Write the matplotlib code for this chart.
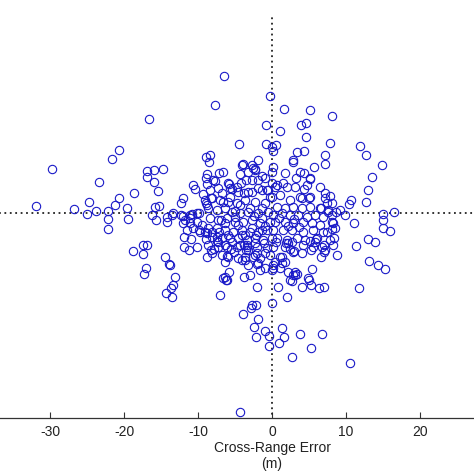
import matplotlib
matplotlib.use("Agg")
import matplotlib.pyplot as plt

# cross-range error (m)
cross_range = [
    -6.5, -0.3, -7.7, 1.6, 5.1, 8.1, -16.6, -0.8, 3.9, 4.6, 1.1, 4.6, -4.5, -0.8, 0.5, 0.0, 0.1, 7.8, 11.9, -20.7,
    3.4, 4.3, 7.2, 12.7, -8.4, -8.9, -21.6, 2.8, -29.7, -16.9, -15.9, -14.7, -16.9, -23.4, -15.9, -15.4, -18.6, -20.7,
    -8.5, -7.2, -6.6, -8.8, -8.9, -7.7, -8.8, -5.8, -10.7, -10.4, -8.4, -6.8, -9.3, -12.0, -12.3, -8.2, -8.9,
    -31.9, -26.8, -24.7, -21.2, -19.6, -23.8, -25.0, -22.2, -22.2, -19.5, -22.2, -15.8, -15.3, -16.2, -15.7, -14.2,
    -13.5, -14.2, -12.3, -10.8, -9.9, -11.8, -11.1, -12.0, -11.5, -10.7, -9.9, -11.9, -10.9, -11.9, -11.2, -10.1,
    -8.8, -8.9, -8.1, -7.2, -7.4, -7.8, -8.2, -6.4, -5.5, -8.8, -6.1, -18.8, -17.4, -16.9, -17.4, -14.5, -13.9,
    -17.0, -17.3, -13.1, -13.4, -13.6, -14.3, -13.5, -5.8, -6.6, -6.1, -7.0, -13.8,
    14.9, 13.5, 13.0, 12.7, 10.7, 10.4, 15.0, 16.5, 15.0, 15.0, 15.9, 11.1, 13.0, 13.9, 11.4, 13.1, 14.3, 15.3,
    11.8, 8.8, 7.2, 5.7, 2.8, 3.8, 4.3, 5.1, 6.5, 7.2, 7.8, 4.3, 5.0, 7.4, 7.6, 6.6, 8.2, 8.1, 8.4, 7.4, 7.0,
    7.0, 6.6, 5.3, 5.9, 5.1, 4.1, 3.0, 2.4, 5.4, 5.0, 5.3, 4.1, 6.4, 7.0, 3.1, 2.7, 2.2, 1.1, 1.4, 0.1, 0.0,
    0.8, 2.0, 0.0, -2.0, -3.8, -3.0, -2.7, -2.2, -4.1, -2.7, -2.3, 0.1, 0.0, 1.8,
    -6.2, -2.8, -3.9, -1.9, -2.4, -0.9, -0.4, -2.2, 1.4, 1.6, 0.9, -0.4, 3.8, 6.8, 5.3, 2.7, 10.5, -4.3,
    -3.9, -2.6, -8.0, -4.3, -3.5, -2.7, -4.2, -5.9, -5.4, -4.7, -3.8, -2.7, -9.1, -6.6, -5.7, -13.4, -12.0,
    -11.1, -10.1, -8.8, 3.2, 5.1, -2.3, -1.9, 0.0, 0.7, 1.5, 2.0, -1.4, -0.7, 3.8,
    -7.3, -7.4, -4.3, -3.4, -4.6, -3.6, -3.2, -2.6, -2.0, -2.0, -6.4, -11.1, -10.1, -9.5, -9.1, -9.7,
    7.8, 8.5, 8.1, 6.8, 7.2, 6.1, 5.8, 4.5, 2.8, 2.7, 2.2, 1.1, 1.4, 0.4, 1.8, -0.3, -1.6, -1.9, -1.6,
    -0.9, 0.1, 3.1, 2.8, 3.4, 2.4, 4.9,
    -7.3, -5.7, -4.6, -3.2, -1.9, -0.5, 0.0, -8.1, -7.0, -5.9, -4.7, -3.6, -2.3, -0.9, -8.6, -7.4, -6.4,
    -5.4, -4.3, -3.2, -1.9, -0.5, -8.4, -7.3, -6.1, -5.0, -3.9, -2.7, -1.6, -0.3, -8.6, -7.4, -6.4, -5.3,
    -4.1, -3.0, -1.9, -0.7, -8.1, -6.8, -5.7, -4.6, -3.4, -2.3, -1.2, 0.0, -8.6, -7.3, -6.1, -4.7, -3.4,
    -2.0, -0.7, -8.1, -6.8, -5.9, -3.6, -2.3, -0.9, -6.4, -4.1, -3.8, -4.6, -2.7, -1.4, -5.0, -6.4,
    -4.3, -3.0, -1.4, -3.6, -2.3, -1.4, -5.4, -3.2,
    0.4, 3.1, 4.7, -0.3, 1.1, 2.4, 4.1, 5.1, 7.2, 8.1, 0.7, 1.8, 2.8, 4.1, 5.1, 6.5, 7.6, 0.1, 1.4, 2.4,
    3.5, 4.7, 5.8, 6.9, 8.1, 0.4, 1.8, 2.8, 4.2, 5.4, 6.5, 0.1, 1.5, 2.7, 4.2, 5.5, 6.9, 0.7, 2.0, 3.4,
    0.1, 1.8, 4.2, 5.5, 8.2,
    -3.2, -1.4, -1.9, -0.9, 9.2, 9.9, 8.6,
    # extra points in the crowded core
    -5.0, -2.5, -1.0, 1.0, 2.2, 3.0, -6.9, -4.0, -2.1, 0.6, 1.9, 3.6, -5.2, -3.5, -1.1, -6.0,
]

# along-range error (m), same order
along_range = [
    18.5, 15.8, 14.6, 14.1, 13.9, 13.1, 12.7, 11.9, 11.9, 12.2, 11.1, 10.3, 9.3, 9.3, 9.2, 8.9, 8.4, 9.5, 9.1, 8.5,
    8.2, 8.4, 7.8, 7.8, 7.8, 7.6, 7.3, 7.2, 5.9, 5.7, 5.8, 5.9, 4.9, 4.2, 4.2, 3.0, 2.7, 2.0,
    6.9, 5.4, 5.5, 5.3, 4.7, 4.3, 3.9, 3.9, 3.8, 3.2, 3.1, 2.7, 2.6, 2.0, 1.4, 2.0, 1.4,
    0.9, 0.5, 1.5, 1.1, 0.7, 0.3, -0.1, 0.3, -0.8, -0.8, -2.2, 0.8, 0.9, -0.3, -0.9, -0.5,
    -0.3, -1.2, -0.3, -0.1, 0.0, -0.9, -0.7, -1.4, -2.3, -2.0, -2.3, -3.2, -3.5, -4.6, -5.0, -4.6,
    -2.7, -3.5, -2.6, -2.6, -3.8, -4.9, -5.0, -4.3, -4.9, -5.9, -5.8, -5.1, -4.3, -4.3, -5.5, -5.9, -6.9,
    -7.4, -8.2, -8.6, -9.7, -10.1, -10.8, -11.4, -8.0, -8.8, -9.1, -11.1, -7.0,
    6.5, 4.9, 3.1, 1.5, 1.8, 1.2, -0.1, 0.1, -0.9, -2.0, -2.4, -1.4, -3.5, -3.9, -4.5, -6.5, -7.0, -7.6,
    -10.1, -5.7, 6.6, 6.2, 6.9, 5.5, 5.4, 4.7, 3.5, 2.7, 2.3, 3.2, 2.0, 1.4, 0.1, 0.7, -1.4, -2.2, -3.4, -2.6, -4.3,
    -5.3, -5.9, -5.0, -3.5, -3.8, -5.4, -5.1, -4.9, -7.6, -9.1, -9.7, -10.0, -10.1, -10.0, -8.4, -9.2, -8.0, -7.4, -5.9, -7.0, -7.7,
    -10.0, -11.4, -12.2, -10.0, -8.6, -8.4, -12.4, -12.4, 6.5, 6.5, 5.9, 6.2, 5.5, 5.4,
    -9.1, -12.8, -13.6, -14.3, -15.4, -15.9, -16.6, -16.8, -15.5, -16.8, -17.6, -18.0, -16.4, -16.4, -18.2, -19.5, -20.3, -26.9,
    6.6, 6.1, 4.5, 5.3, 4.5, 4.5, 4.1, 4.1, 3.2, 3.5, 2.7, 2.8, 1.8, 1.5, 2.2, 0.0, -0.4,
    -0.3, 0.0, 1.1, 4.7, 4.6, 5.8, 4.5, 4.1, 3.8, 4.1, 3.5, 3.1, 3.1, 2.2,
    -3.9, -3.2, -4.3, -4.6, -6.1, -6.4, -7.0, -5.9, -5.4, -6.9, -8.6, -1.4, -1.2, -1.6, -2.6, -2.6,
    -3.6, -2.0, -1.2, -4.6, -5.0, -3.4, -3.9, -3.6, -5.3, -3.9, -4.1, -5.9, -6.8, -6.6, -6.6, -5.7, -6.1, -6.8, -7.7,
    -7.4, -7.4, -8.0, -8.4, -8.2, -9.1, -8.8,
    3.4, 3.4, 2.8, 2.8, 3.4, 3.1, 2.2, 2.0, 1.8, 1.5, 1.4, 1.8, 1.5, 1.4, 0.7, 0.4, 0.7,
    0.1, 0.0, 0.1, 0.0, 0.1, -0.7, -0.9, -0.7, -1.2, -1.2, -0.9, -1.4, -1.2, -2.0, -2.0, -2.3, -2.6,
    -2.3, -2.6, -2.6, -2.3, -3.2, -3.4, -3.4, -3.4, -3.6, -3.4, -3.6, -3.4, -4.3, -4.6, -4.6, -4.6, -4.3,
    -4.6, -4.7, -5.4, -5.7, -5.9, -5.9, -5.7, -5.4, -6.6, -6.4, -4.3, -1.6, -2.0, -0.7, -0.5, -1.4,
    1.1, 0.7, 0.7, -3.0, -4.1, -2.3, -3.9, -5.0,
    3.5, 3.5, 3.8, 2.2, 2.4, 1.8, 2.0, 2.2, 2.0, 1.4, 0.8, 0.7, 0.8, 0.7, 0.8, 0.7, 0.4, -0.3, 0.0, -0.3,
    -0.3, -0.5, -0.3, -0.5, -0.3, -1.2, -1.2, -1.4, -1.2, -1.4, -1.6, -2.3, -2.3, -2.3, -2.6, -2.3, -2.6, -3.4, -3.6, -3.4,
    -4.6, -4.6, -4.3, -4.6, -4.3,
    5.5, 5.0, 7.2, 4.7, 0.4, -0.3, 0.1,
    # extra points in the crowded core
    0.3, -0.4, -1.8, -0.6, -1.7, -0.8, -1.0, -2.9, -3.0, -3.9, -4.0, -1.9, -5.2, -5.0, -4.0, -3.0,
]

xticks = [-30, -20, -10, 0, 10, 20]

fig = plt.figure(figsize=(4.74, 4.74), dpi=100)
ax = fig.add_axes([0.0, 56 / 474, 1.0, 418 / 474])

ax.plot(cross_range, along_range, 'o', markerfacecolor='none', markeredgecolor='#1a1ac8',
        markersize=6, markeredgewidth=0.8, linestyle='none', zorder=3)

# dotted zero lines
ax.plot([-40, 30], [0, 0], linestyle=(0, (1, 2)), color='#222222', linewidth=1.3, zorder=2)
ax.plot([0, 0], [-28, 26.6], linestyle=(0, (1, 2)), color='#222222', linewidth=1.3, zorder=2)

ax.set_xlim(-36.76, 27.3)
ax.set_ylim(-27.7, 28.8)
ax.set_xticks(xticks)
ax.set_xticklabels([str(t) for t in xticks], fontsize=10, family='Liberation Sans', color='#222222')
ax.set_yticks([])
ax.tick_params(axis='x', direction='in', length=4, width=0.8, pad=5, color='#333333')
for side in ['top', 'left', 'right']:
    ax.spines[side].set_visible(False)
ax.spines['bottom'].set_color('#333333')
ax.spines['bottom'].set_linewidth(0.9)

ax.set_xlabel('Cross-Range Error\n(m)', fontsize=10, family='Liberation Sans', color='#222222',
              linespacing=1.2)
ax.xaxis.set_label_coords(272 / 474, -0.055, transform=ax.transAxes)
ax.xaxis.label.set_verticalalignment('top')

fig.savefig('out.png', dpi=100)
